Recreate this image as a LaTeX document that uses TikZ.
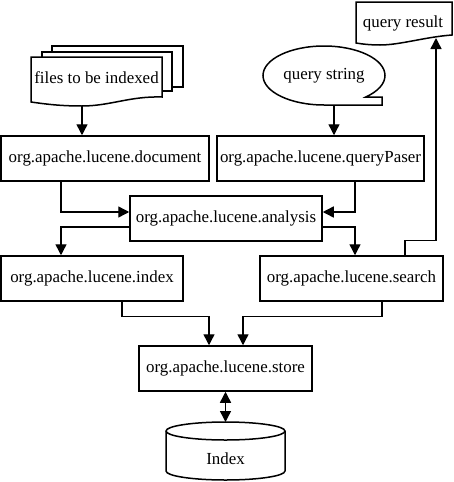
\documentclass[tikz,border=0pt]{standalone}
\usepackage{fontspec}
\setmainfont{Liberation Serif}
\usetikzlibrary{arrows.meta}
\tikzset{
  pkg/.style={draw, line width=1.5pt, minimum height=45pt, inner sep=1pt},
  shp/.style={draw, line width=1.5pt, fill=white},
  arr/.style={-{Triangle[length=11pt,width=11pt]}, line width=1.4pt},
  biarr/.style={{Triangle[length=11pt,width=11pt]}-{Triangle[length=11pt,width=11pt]}, line width=1.4pt},
}
\begin{document}
\begin{tikzpicture}[x=1pt, y=-1pt, font=\fontsize{16.9}{20}\selectfont]
      \useasboundingbox (0,0) rectangle (453,482);
      \draw[shp] (52,46) rectangle (183,87);
      \draw[shp] (42,52) rectangle (172,91);
      \draw[shp] (31,57) -- (162,57) -- (162,97)
        .. controls (130,96) and (110,106) .. (82,106)
        .. controls (60,106) and (45,104) .. (31,102) -- cycle;
      \node (files) at (96.5,78) {files to be indexed};
      \coordinate (filesout) at (82,106);
      \draw[shp] (324,105) arc[start angle=90, end angle=406.8, x radius=61, y radius=29.5]
        -- (382,97) -- (382,105) -- cycle;
      \node (qstring) at (324,75.5) {query string};
      \coordinate (qstringout) at (334,105);
      \draw[shp] (356,2) -- (452,2) -- (452,35)
        .. controls (425,37) and (400,45) .. (380,45)
        .. controls (370,45) and (362,44) .. (356,43) -- cycle;
      \node (qresult) at (403,23) {query result};
      \coordinate (qresultin) at (436,38);
      \node[pkg, minimum width=208pt] (document) at (105,158.5) {org.apache.lucene.document};
      \node[pkg, minimum width=207pt] (queryparser) at (320.5,158.5) {org.apache.lucene.queryPaser};
      \node[pkg, minimum width=192pt] (analysis) at (226,218.5) {org.apache.lucene.analysis};
      \node[pkg, minimum width=182pt] (index) at (92,278.5) {org.apache.lucene.index};
      \node[pkg, minimum width=183pt] (search) at (351.5,278.5) {org.apache.lucene.search};
      \node[pkg, minimum width=173pt] (store) at (225.5,368.5) {org.apache.lucene.store};
      \draw[shp] (166,431) -- (166,471) arc[start angle=180, end angle=0, x radius=59.5, y radius=9]
        -- (285,431) arc[start angle=0, end angle=-180, x radius=59.5, y radius=9] -- cycle;
      \draw[line width=1.5pt] (166,431) arc[start angle=180, end angle=0, x radius=59.5, y radius=9];
      \node (idx) at (225.5,459) {Index};
      \coordinate (idxtop) at (225.5,422);
      \begin{scope}[arr]
        \draw (filesout) -- (filesout |- document.north);
        \draw (qstringout) -- (qstringout |- queryparser.north);
        \draw ([xshift=-44pt]document.south) |- ([yshift=6.5pt]analysis.west);
        \draw ([xshift=34.5pt]queryparser.south) |- ([yshift=6.5pt]analysis.east);
        \draw ([yshift=-8.5pt]analysis.west) -| ([xshift=-31pt]index.north);
        \draw ([yshift=-8.5pt]analysis.east) -| ([xshift=3.5pt]search.north);
        \draw ([xshift=53.5pt]search.north) -- ++(0,-15) -| (qresultin);
        \draw ([xshift=30pt]index.south) -- ++(0,15) -| ([xshift=-16.5pt]store.north);
        \draw ([xshift=30.5pt]search.south) -- ++(0,15) -| ([xshift=17.5pt]store.north);
      \end{scope}
      \draw[biarr] (store.south) -- (idxtop);
    \end{tikzpicture}
\end{document}
